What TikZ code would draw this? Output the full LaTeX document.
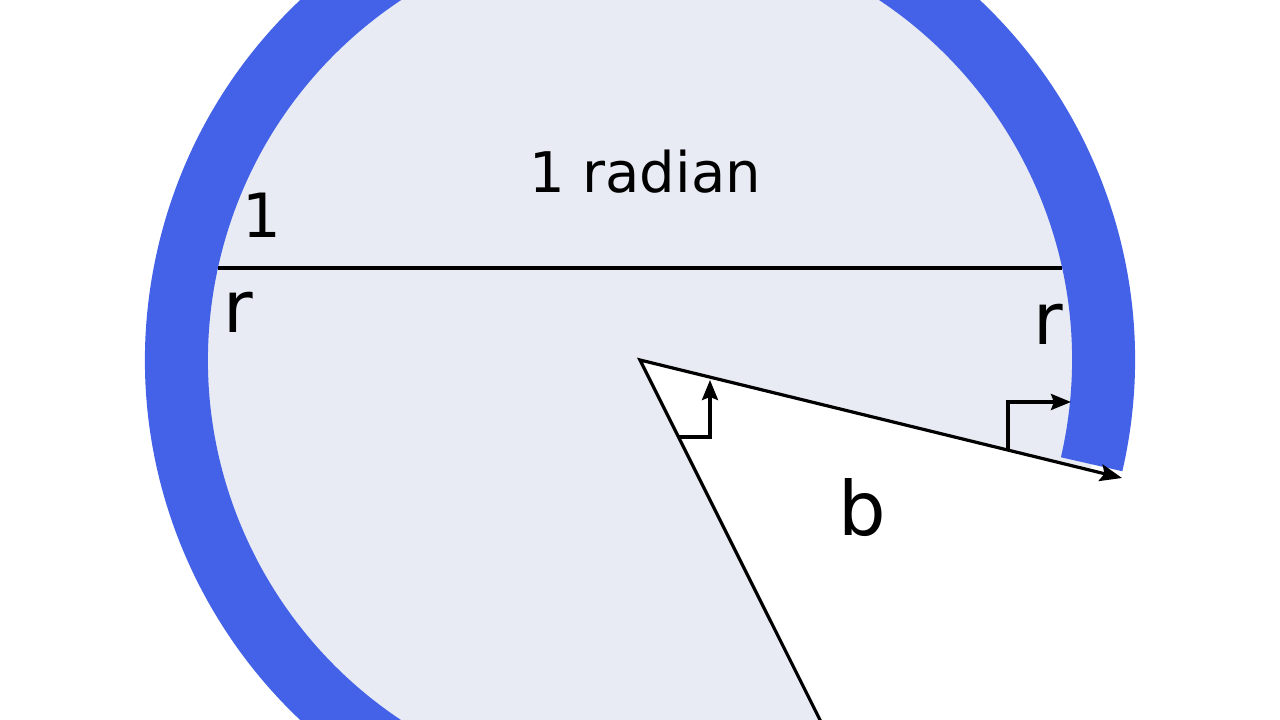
\documentclass[tikz,border=0pt]{standalone}
\usepackage{fontspec}
\setmainfont{DejaVu Sans}
\usetikzlibrary{arrows.meta,calc}
\definecolor{ringblue}{RGB}{67,98,232}
\definecolor{diskfill}{RGB}{232,235,243}
\tikzset{
  edgeline/.style={black, line width=3.2pt, line join=miter},
  markline/.style={black, line width=3.2pt, -{Stealth[length=20pt,width=16pt,inset=3pt]}},
  lbl/.style={anchor=base, inner sep=0pt, text=black}
}
\begin{document}
\begin{tikzpicture}[x=1pt,y=1pt]
\useasboundingbox (0,0) rectangle (1280,720);
\clip (0,0) rectangle (1280,720);
\fill[white] (0,0) rectangle (1280,720);
\coordinate (O) at (640,360);
% light disk with slice removed
\fill[diskfill] (O) -- ($(O)+(-13.76:464)$) arc[start angle=-13.76, end angle=296.57, radius=464] -- cycle;
% blue ring
\draw[ringblue, line width=63pt] ($(O)+(-13:463.5)$) arc[start angle=-13, end angle=296.57, radius=463.5];
% chord
\coordinate (cl) at (218,452);
\coordinate (cr) at (1062,452);
\draw[edgeline] (cl) -- (cr);
% slice edges
\coordinate (tip) at (1122,242);
\coordinate (low) at ($(O)+(-63.43:520)$);
\draw[edgeline, {Stealth[length=22pt,width=17pt,inset=4pt]}-] (tip) -- (O) -- (low);
% right-angle marks
\coordinate (m1a) at (678.5,283);
\coordinate (m1b) at (710,283);
\coordinate (m1c) at (710,340);
\draw[markline] (m1a) -- (m1b) -- (m1c);
\coordinate (m2a) at (1008,270);
\coordinate (m2b) at (1008,318);
\coordinate (m2c) at (1071,318);
\draw[markline] (m2a) -- (m2b) -- (m2c);
% labels
\node[lbl, font=\fontsize{56}{60}\selectfont] (rad) at (645,527) {1 radian};
\node[lbl, font=\fontsize{61}{66}\selectfont] (one) at (262,482) {1};
\node[lbl, font=\fontsize{72}{78}\selectfont] (rl) at (238,387) {r};
\node[lbl, font=\fontsize{72}{78}\selectfont] (rr) at (1048,375) {r};
\node[lbl, font=\fontsize{75}{80}\selectfont] (b) at (862,184) {b};
\end{tikzpicture}
\end{document}
